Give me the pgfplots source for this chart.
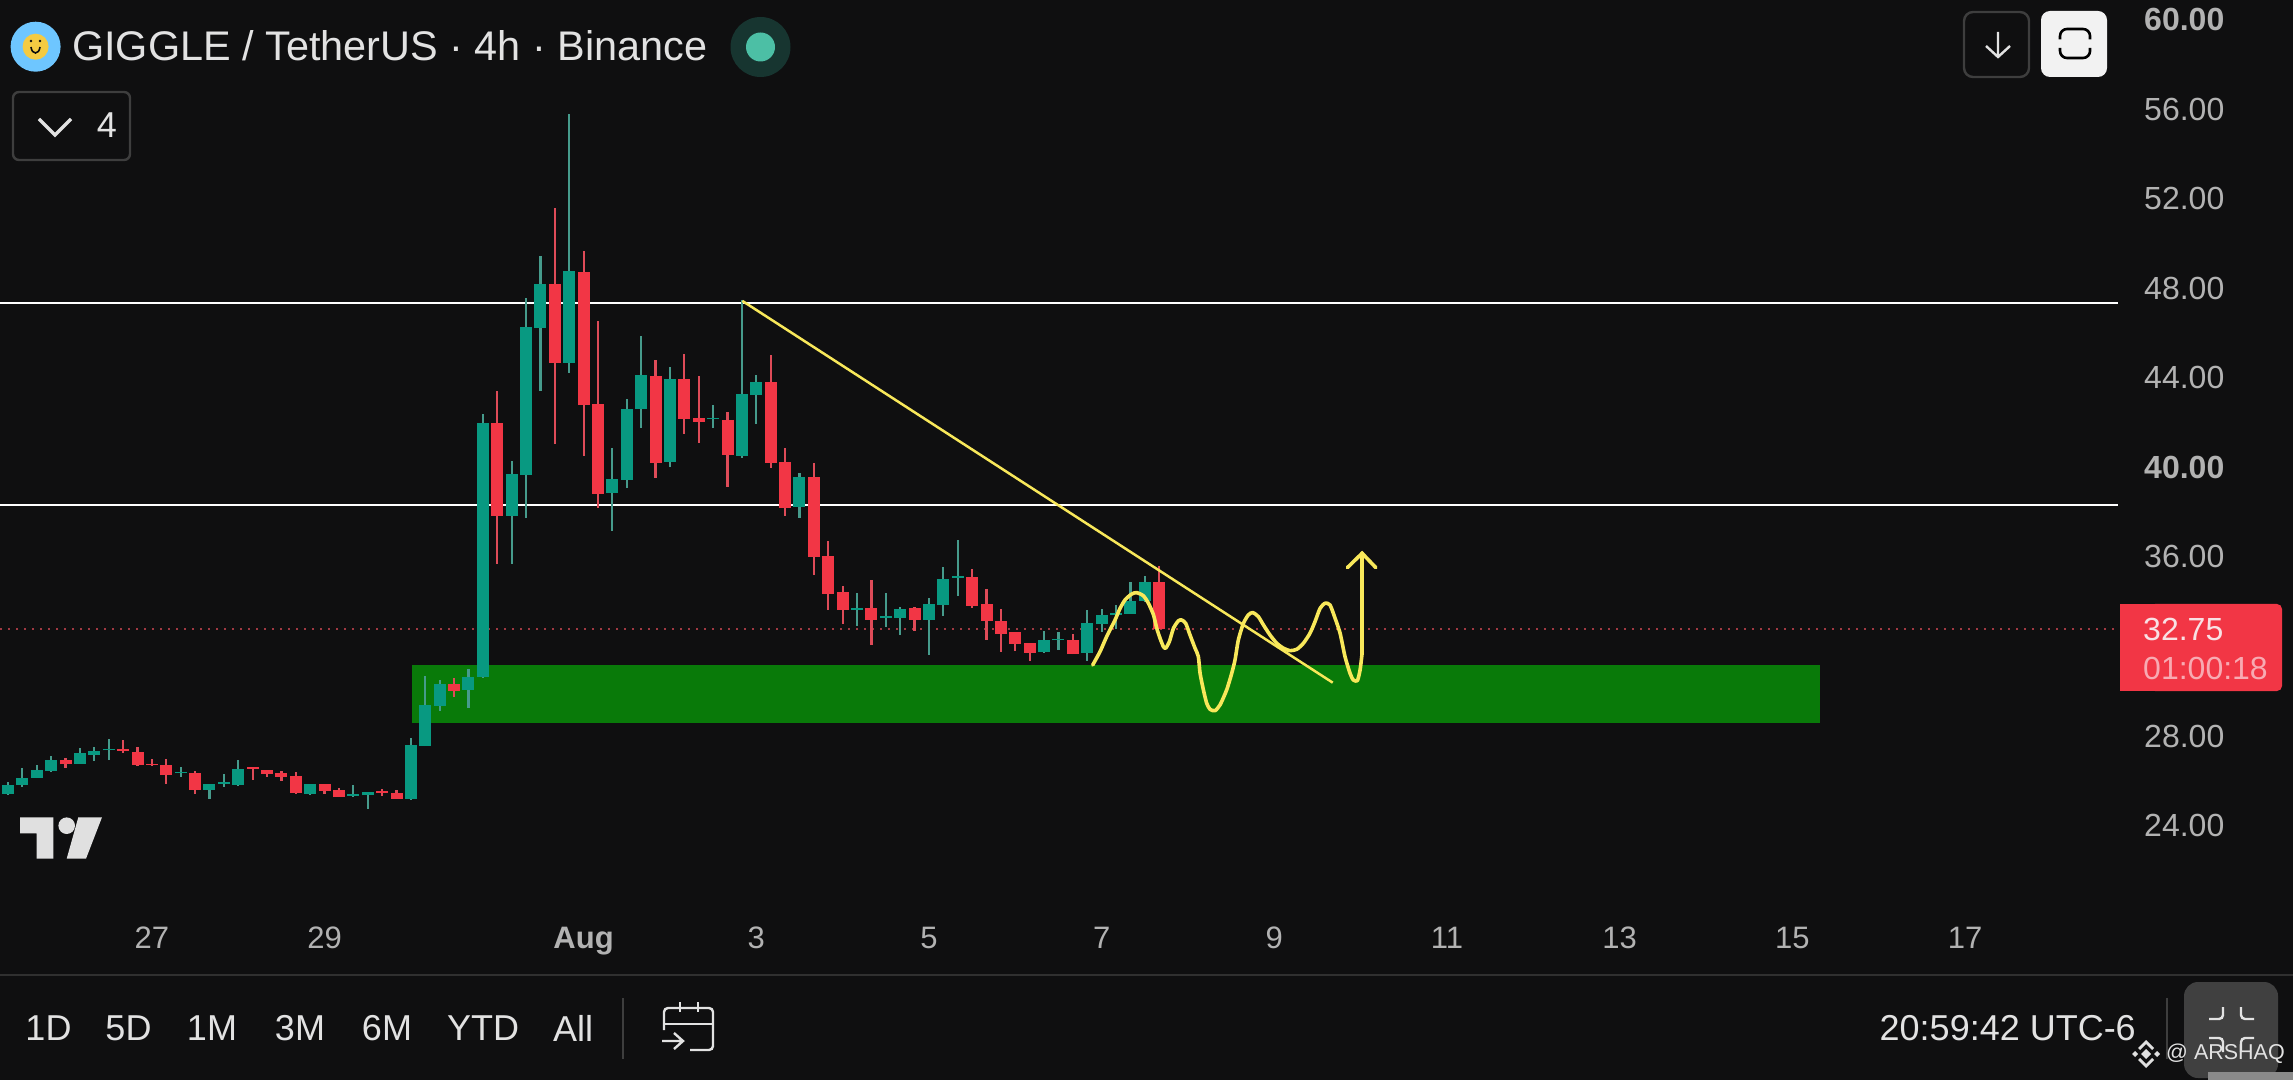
\documentclass[border=0pt]{standalone}
\usepackage{fontspec}
\usepackage{pgfplots}
\usepackage{pgfplotstable}
\pgfplotsset{compat=1.18}
\setmainfont{Liberation Sans}
\newcommand{\fs}[1]{\fontsize{#1}{#1}\selectfont}
\definecolor{bg}{RGB}{15,15,16}
\definecolor{upc}{RGB}{8,153,129}
\definecolor{dnc}{RGB}{242,54,69}
\definecolor{upw}{RGB}{70,155,140}
\definecolor{dnw}{RGB}{222,75,88}
\definecolor{zone}{RGB}{9,122,9}
\definecolor{yel}{RGB}{248,232,90}
\definecolor{lab}{RGB}{178,178,178}
\definecolor{txt}{RGB}{226,226,226}
\definecolor{bord}{RGB}{62,62,62}
\definecolor{avblue}{RGB}{110,198,255}
\definecolor{avyel}{RGB}{245,203,66}
\definecolor{dotout}{RGB}{23,53,48}
\definecolor{dotin}{RGB}{76,191,165}
\definecolor{btnw}{RGB}{242,242,242}
\definecolor{tag1}{RGB}{248,225,228}
\definecolor{tag2}{RGB}{248,170,178}
\definecolor{tvm}{RGB}{224,224,224}
\definecolor{rule}{RGB}{48,48,48}
\definecolor{btng}{RGB}{64,64,64}
\definecolor{strip}{RGB}{138,138,138}
% x = candle number (4h each), prices in USDT
\pgfplotstableread{
x open high low close
0 25.37 25.89 25.34 25.77
1 25.76 26.51 25.68 26.08
2 26.08 26.65 26.08 26.44
3 26.38 27.07 26.35 26.89
5 26.71 27.42 26.71 27.20
6 27.11 27.47 26.84 27.29
7 27.32 27.84 26.89 27.38
12 26.31 26.57 26.13 26.37
14 25.55 25.82 25.15 25.82
15 25.83 26.26 25.68 25.89
16 25.77 26.87 25.74 26.47
21 25.37 25.82 25.32 25.82
24 25.29 25.77 25.23 25.35
25 25.31 25.46 24.68 25.46
28 25.15 27.87 25.10 27.56
29 27.51 30.64 27.51 29.34
30 29.30 30.46 29.08 30.28
32 30.01 30.95 29.21 30.59
33 30.59 42.35 30.56 41.94
35 37.79 40.25 35.62 39.67
36 39.62 47.51 37.70 46.23
37 46.18 49.39 43.38 48.15
39 44.62 55.73 44.16 48.73
42 38.81 40.81 37.10 39.45
43 39.39 42.99 39.03 42.56
44 42.56 45.82 41.72 44.08
46 40.20 44.44 39.96 43.91
49 42.10 42.76 41.72 42.16
51 40.47 47.44 40.37 43.22
52 43.19 44.08 41.88 43.77
55 38.20 39.69 37.68 39.51
59 33.60 34.35 32.87 33.66
61 33.25 34.35 32.83 33.30
62 33.23 33.72 32.47 33.63
64 33.14 34.12 31.58 33.86
65 33.81 35.51 33.32 34.97
66 35.03 36.71 34.21 35.09
72 31.71 32.65 31.68 32.25
73 32.23 32.60 31.80 32.29
75 31.67 33.59 31.31 33.01
76 32.96 33.63 32.60 33.37
77 33.38 33.81 32.74 33.44
78 33.41 34.84 33.41 33.99
79 33.99 35.11 33.95 34.84
}\upcandles
\pgfplotstableread{
x open high low close
4 26.90 26.99 26.53 26.69
8 27.36 27.78 27.20 27.30
9 27.24 27.47 26.62 26.66
10 26.72 26.95 26.65 26.68
11 26.66 26.93 25.82 26.22
13 26.31 26.40 25.37 25.55
17 26.56 26.56 25.99 26.50
18 26.44 26.44 26.13 26.26
19 26.31 26.40 25.95 26.13
20 26.17 26.35 25.40 25.41
22 25.82 25.82 25.37 25.50
23 25.55 25.64 25.23 25.23
26 25.49 25.59 25.28 25.43
27 25.41 25.55 25.15 25.15
31 30.28 30.55 29.70 29.97
34 41.94 43.38 35.62 37.79
38 48.15 51.55 40.98 44.62
40 48.69 49.62 40.47 42.74
41 42.78 46.49 38.15 38.76
45 44.04 44.74 39.46 40.16
47 43.91 45.03 41.45 42.11
48 42.16 44.04 41.03 41.99
50 42.08 42.44 39.10 40.52
53 43.77 44.98 39.92 40.16
54 40.20 40.81 37.79 38.14
56 39.53 40.15 35.15 35.95
57 36.00 36.67 33.59 34.30
58 34.39 34.66 32.96 33.59
60 33.66 34.93 32.02 33.14
63 33.66 33.71 32.65 33.14
67 35.06 35.42 33.68 33.77
68 33.86 34.53 32.25 33.10
69 33.10 33.63 31.71 32.52
70 32.60 32.60 31.76 32.07
71 32.11 32.11 31.31 31.67
74 32.25 32.52 31.62 31.62
80 34.84 35.55 32.74 32.74
}\downcandles
\begin{document}
\begin{tikzpicture}[x=1pt,y=1pt,line cap=butt]
\useasboundingbox (0,0) rectangle (2293,1080);
\fill[bg] (0,0) rectangle (2293,1080);
\begin{axis}[
  at={(0pt,175pt)}, anchor=south west,
  width=2118pt, height=905pt, scale only axis,
  xmin=-0.556, xmax=146.63, ymin=20.41, ymax=60.83,
  enlargelimits=false,
  axis line style={draw=none},
  major tick length=0pt, tick style={draw=none},
  yticklabel pos=right,
  ytick={24,28,36,40,44,48,52,56,60},
  yticklabels={24.00,28.00,36.00,\textbf{40.00},44.00,48.00,52.00,56.00,\textbf{60.00}},
  yticklabel style={anchor=west,inner sep=0pt,xshift=26pt,yshift=-1pt,text=lab,font=\fs{32}},
  xtick={10,22,40,52,64,76,88,100,112,124,136},
  xticklabels={27,29,\textbf{Aug},3,5,7,9,11,13,15,17},
  xticklabel style={anchor=center,inner sep=0pt,yshift=-32pt,text=lab,font=\fs{31},text height=22pt,text depth=0pt},
]
% price zone
\addplot[draw=none,fill=zone] coordinates {(28.07,28.56)(125.95,28.56)(125.95,31.14)(28.07,31.14)} --cycle;
% horizontal levels
\addplot[white,line width=2.4pt] coordinates {(-0.556,47.31)(146.63,47.31)};
\addplot[white,line width=2.4pt] coordinates {(-0.556,38.27)(146.63,38.27)};
% last price
\addplot[dnw!70!bg,line width=2pt,dash pattern=on 2pt off 6pt] coordinates {(-0.556,32.75)(146.63,32.75)};
% wicks
\addplot[draw=none,mark=none,error bars/.cd,y dir=both,y explicit,error mark=none,
  error bar style={line width=2.2pt,color=upw}]
  table[x=x,y=open,y error plus expr=\thisrow{high}-\thisrow{open},y error minus expr=\thisrow{open}-\thisrow{low}] {\upcandles};
\addplot[draw=none,mark=none,error bars/.cd,y dir=both,y explicit,error mark=none,
  error bar style={line width=2.2pt,color=dnw}]
  table[x=x,y=close,y error plus expr=\thisrow{high}-\thisrow{close},y error minus expr=\thisrow{close}-\thisrow{low}] {\downcandles};
% bodies
\addplot[draw=none,mark=none,error bars/.cd,y dir=plus,y explicit,error mark=none,
  error bar style={line width=12pt,color=upc}]
  table[x=x,y=open,y error plus expr=\thisrow{close}-\thisrow{open},y error minus expr=0] {\upcandles};
\addplot[draw=none,mark=none,error bars/.cd,y dir=plus,y explicit,error mark=none,
  error bar style={line width=12pt,color=dnc}]
  table[x=x,y=close,y error plus expr=\thisrow{open}-\thisrow{close},y error minus expr=0] {\downcandles};
% trend line
\addplot[yel,line width=2.5pt] coordinates {(51.03,47.39)(92.06,30.34)};
% hand drawn path
\addplot[yel,line width=3.6pt,line join=round,line cap=round,smooth,tension=0.4] coordinates {
(75.38,31.13)(75.89,31.73)(76.35,32.40)(76.93,33.14)(77.28,33.66)(77.63,34.04)(78.09,34.30)(78.44,34.36)
(78.90,34.22)(79.25,33.89)(79.60,33.37)(79.83,32.77)(80.06,32.32)(80.29,31.95)(80.45,31.88)(80.71,32.18)
(80.99,32.77)(81.33,33.10)(81.56,33.14)(81.84,32.99)(82.14,32.47)(82.49,31.88)(82.72,31.51)(82.84,30.76)
(83.07,30.02)(83.30,29.42)(83.53,29.15)(83.88,29.09)(84.23,29.35)(84.69,30.02)(85.04,30.76)(85.27,31.36)
(85.50,32.25)(85.85,32.99)(86.20,33.37)(86.50,33.47)(86.89,33.29)(87.24,32.92)(87.70,32.47)(88.17,32.10)
(88.63,31.88)(89.09,31.77)(89.56,31.83)(90.02,32.10)(90.48,32.55)(90.83,33.07)(91.18,33.66)(91.53,33.89)
(91.87,33.81)(92.22,33.22)(92.57,32.55)(92.91,31.51)(93.26,30.76)(93.49,30.46)(93.77,30.43)(93.96,30.91)(94.10,31.65)};
\addplot[yel,line width=3.6pt,line cap=round] coordinates {(94.10,31.65)(94.10,36.12)};
\addplot[yel,line width=3.6pt,line join=miter,line cap=round] coordinates {(93.08,35.48)(94.10,36.12)(95.05,35.48)};
\end{axis}
\begin{scope}[yshift=1080pt,y=-1pt,x=1pt]
% header
\fill[avblue] (35.6,46.7) circle (25);
\fill[avyel] (35.6,46.7) circle (13);
\draw[bg!80!black,line width=1.6pt] (31,47) .. controls (32,55) and (39,55) .. (40,47);
\fill[bg] (31,41) circle (1.4); \fill[bg] (40,41) circle (1.4);
\node[anchor=west,inner sep=0pt,text=txt,font=\fs{41.4}] at (72,46) {GIGGLE / TetherUS · 4h · Binance};
\fill[dotout] (760.5,47) circle (30);
\fill[dotin] (760.5,47) circle (14.5);
\draw[bord,line width=2.4pt,rounded corners=6pt] (13,92) rectangle (130,160);
\draw[txt,line width=3.4pt] (39,119) -- (55,135) -- (71,119);
\node[inner sep=0pt,text=txt,font=\fs{36}] at (107,125) {4};
% buttons
\draw[bord,line width=2.4pt,rounded corners=9pt] (1964,12) rectangle (2029,77);
\draw[txt,line width=2.4pt] (1998,32) -- (1998,56) (1986,46) -- (1998,57) -- (2010,46);
\fill[btnw,rounded corners=9pt] (2041,11) rectangle (2107,77);
\draw[black,line width=2.6pt,rounded corners=7pt] (2060,39.5) -- (2060,29) -- (2090,29) -- (2090,39.5);
\draw[black,line width=2.6pt,rounded corners=7pt] (2060,48) -- (2060,58) -- (2090,58) -- (2090,48);
% price tag
\fill[dnc,rounded corners=5pt] (2150,604) -- (2282,604) -- (2282,691) -- (2150,691) -- cycle;
\fill[dnc] (2120,604) rectangle (2160,691);
\node[anchor=west,inner sep=0pt,text=tag1,font=\fs{32}] at (2143,629) {32.75};
\node[anchor=west,inner sep=0pt,text=tag2,font=\fs{32}] at (2143,668) {01:00:18};
% TradingView mark
\fill[tvm] (20,817.3) -- (53.3,817.3) -- (53.3,858.7) -- (36.7,858.7) -- (36.7,833.3) -- (20,833.3) -- cycle;
\fill[tvm] (66.7,825.7) circle (8.3);
\fill[tvm] (78.3,817.3) -- (102,817.3) -- (86,858.7) -- (66.7,858.7) -- cycle;
% bottom bar
\draw[rule,line width=2pt] (0,975) -- (2293,975);
\foreach \x/\t in {48.5/1D,128.5/5D,212/1M,300/3M,387/6M,483/YTD,573/All}
  \node[inner sep=0pt,text=txt,font=\fs{36}] at (\x,1028) {\t};
\draw[bord,line width=2pt] (623,998) -- (623,1059);
\draw[txt,line width=2.4pt,rounded corners=4pt] (664,1030) -- (664,1008) -- (713,1008) -- (713,1050) -- (690,1050);
\draw[txt,line width=2.4pt] (664,1024) -- (713,1024) (680,1002) -- (680,1012) (698,1002) -- (698,1012);
\draw[txt,line width=2.4pt] (662,1041) -- (683,1041) (674,1033) -- (683,1041) -- (674,1049);
\node[anchor=east,inner sep=0pt,text=txt,font=\fs{36}] at (2136,1028) {20:59:42 UTC-6};
\draw[bord,line width=2pt] (2167,998) -- (2167,1059);
\fill[btng,rounded corners=14pt] (2184,982) rectangle (2278,1078);
\fill[strip] (2208,1072) rectangle (2293,1080);
\draw[txt,line width=2.4pt,rounded corners=4pt] (2223,1007) -- (2223,1019) -- (2209,1019);
\draw[txt,line width=2.4pt,rounded corners=4pt] (2241,1007) -- (2241,1019) -- (2254,1019);
\draw[txt,line width=2.4pt,rounded corners=4pt] (2223,1052) -- (2223,1038) -- (2209,1038);
\draw[txt,line width=2.4pt,rounded corners=4pt] (2241,1052) -- (2241,1038) -- (2254,1038);
% watermark
\node[anchor=west,inner sep=0pt,text=txt,font=\fs{21.5}] at (2166,1054) {@ ARSHAQ};
\fill[tvm] (2146,1049) -- (2151,1054) -- (2146,1059) -- (2141,1054) -- cycle;
\fill[tvm] (2135,1051) -- (2138,1054) -- (2135,1057) -- (2132,1054) -- cycle;
\fill[tvm] (2157,1051) -- (2160,1054) -- (2157,1057) -- (2154,1054) -- cycle;
\fill[tvm] (2146,1040) -- (2154,1048) -- (2152,1050) -- (2146,1044) -- (2140,1050) -- (2138,1048) -- cycle;
\fill[tvm] (2146,1068) -- (2154,1060) -- (2152,1058) -- (2146,1064) -- (2140,1058) -- (2138,1060) -- cycle;
\end{scope}
\end{tikzpicture}
\end{document}
